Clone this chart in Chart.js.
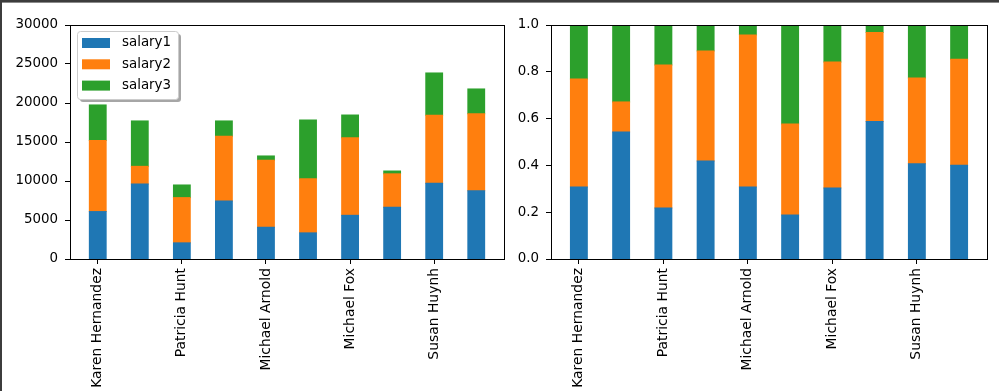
<!DOCTYPE html>
<html>
<head>
    <title>Salaries</title>
    <script src="https://cdn.jsdelivr.net/npm/chart.js"></script>
    <style>
        body { margin: 0; background: #fff; }
        #wrap { position: relative; width: 999px; height: 391px; overflow: hidden; }
        canvas { position: absolute; top: 0; }
        #frameTop { position: absolute; left: 0; top: 0; width: 999px; height: 2px; background: #3c3c3c; border-bottom: 1px solid #8a8a8a; }
        #frameLeft { position: absolute; left: 0; top: 0; width: 2px; height: 391px; background: #3c3c3c; }
    </style>
</head>
<body>
<div id="wrap">
    <canvas id="absChart" width="510" height="391" style="left:0"></canvas>
    <canvas id="pctChart" width="489" height="391" style="left:510px"></canvas>
    <div id="frameTop"></div>
    <div id="frameLeft"></div>
</div>
<script>
    // only every other name is shown on the axis; the rest are unknown
    const names = ['Karen Hernandez', '', 'Patricia Hunt', '', 'Michael Arnold', '', 'Michael Fox', '', 'Susan Huynh', ''];
    const salary1 = [6080, 9610, 2070, 7420, 4070, 3350, 5600, 6630, 9700, 8740];
    const salary2 = [9110, 2270, 5800, 8320, 8580, 6930, 9940, 4290, 8740, 9880];
    const salary3 = [4560, 5820, 1620, 1960, 560, 7540, 2920, 360, 5410, 3180];
    const seriesNames = ['salary1', 'salary2', 'salary3'];
    const colors = ['#1f77b4', '#ff7f0e', '#2ca02c'];

    Chart.defaults.font.family = 'DejaVu Sans';
    Chart.defaults.font.size = 13.4;
    Chart.defaults.color = '#000';

    const allSeries = [salary1, salary2, salary3];
    const totals = names.map((n, i) => salary1[i] + salary2[i] + salary3[i]);

    function makeDatasets(normalize) {
        return allSeries.map((s, k) => ({
            label: seriesNames[k],
            data: s.map((v, i) => ({ x: i, y: normalize ? v / totals[i] : v })),
            backgroundColor: colors[k],
            borderWidth: 0,
            inflateAmount: 0.5,
            categoryPercentage: 1,
            barPercentage: 0.4
        }));
    }

    // box around the plot area
    const framePlugin = {
        id: 'frame',
        afterDatasetsDraw(chart) {
            const a = chart.chartArea;
            const ctx = chart.ctx;
            ctx.save();
            ctx.strokeStyle = '#000';
            ctx.lineWidth = 1;
            ctx.strokeRect(Math.round(a.left) + 0.5, Math.round(a.top) + 0.5,
                Math.round(a.right - a.left), Math.round(a.bottom - a.top));
            ctx.restore();
        }
    };

    // matplotlib style legend with shadow, upper left inside the axes
    const boxLegend = {
        id: 'boxLegend',
        afterDraw(chart) {
            const a = chart.chartArea;
            const ctx = chart.ctx;
            const x = a.left + 7, y = a.top + 6, w = 101, h = 68;
            ctx.save();
            ctx.fillStyle = 'rgba(0,0,0,0.35)';
            roundRect(ctx, x + 3, y + 3, w, h, 3);
            ctx.fill();
            ctx.fillStyle = '#fff';
            ctx.strokeStyle = '#cccccc';
            ctx.lineWidth = 1;
            roundRect(ctx, x + 0.5, y + 0.5, w, h, 3);
            ctx.fill();
            ctx.stroke();
            ctx.font = '13.4px "DejaVu Sans"';
            ctx.textBaseline = 'middle';
            chart.data.datasets.forEach((ds, i) => {
                const cy = y + 12 + i * 21.3;
                ctx.fillStyle = ds.backgroundColor;
                ctx.fillRect(x + 5, cy - 5, 28, 10);
                ctx.fillStyle = '#000';
                ctx.fillText(ds.label, x + 45, cy);
            });
            ctx.restore();
        }
    };

    function roundRect(ctx, x, y, w, h, r) {
        ctx.beginPath();
        ctx.moveTo(x + r, y);
        ctx.lineTo(x + w - r, y);
        ctx.quadraticCurveTo(x + w, y, x + w, y + r);
        ctx.lineTo(x + w, y + h - r);
        ctx.quadraticCurveTo(x + w, y + h, x + w - r, y + h);
        ctx.lineTo(x + r, y + h);
        ctx.quadraticCurveTo(x, y + h, x, y + h - r);
        ctx.lineTo(x, y + r);
        ctx.quadraticCurveTo(x, y, x + r, y);
        ctx.closePath();
    }

    function makeOptions(yAxisWidth, rightPad, yMax, yStep, yFormat) {
        return {
            responsive: false,
            animation: false,
            layout: { padding: { top: 25, right: rightPad, left: 0, bottom: 0 } },
            plugins: { legend: { display: false }, tooltip: { enabled: false } },
            scales: {
                x: {
                    type: 'linear',
                    min: -0.66,
                    max: 9.66,
                    offset: false,
                    stacked: true,
                    afterBuildTicks: scale => {
                        scale.ticks = [0, 2, 4, 6, 8].map(v => ({ value: v }));
                    },
                    afterFit: scale => { scale.height = 132; },
                    ticks: {
                        autoSkip: false,
                        minRotation: 90,
                        maxRotation: 90,
                        padding: 4,
                        font: { size: 13.9 },
                        callback: v => names[v] || ''
                    },
                    grid: { drawOnChartArea: false, offset: false, tickLength: 5, color: '#000' },
                    border: { display: false }
                },
                y: {
                    stacked: true,
                    min: 0,
                    max: yMax,
                    afterFit: scale => { scale.width = yAxisWidth; },
                    ticks: { stepSize: yStep, padding: 7, callback: yFormat },
                    grid: { drawOnChartArea: false, tickLength: 5, color: '#000' },
                    border: { display: false }
                }
            }
        };
    }

    new Chart(document.getElementById('absChart'), {
        type: 'bar',
        data: { datasets: makeDatasets(false) },
        options: makeOptions(70, 6, 30000, 5000, v => String(v)),
        plugins: [framePlugin, boxLegend]
    });

    new Chart(document.getElementById('pctChart'), {
        type: 'bar',
        data: { datasets: makeDatasets(true) },
        options: makeOptions(41, 12, 1, 0.2, v => v.toFixed(1)),
        plugins: [framePlugin]
    });
</script>
</body>
</html>
